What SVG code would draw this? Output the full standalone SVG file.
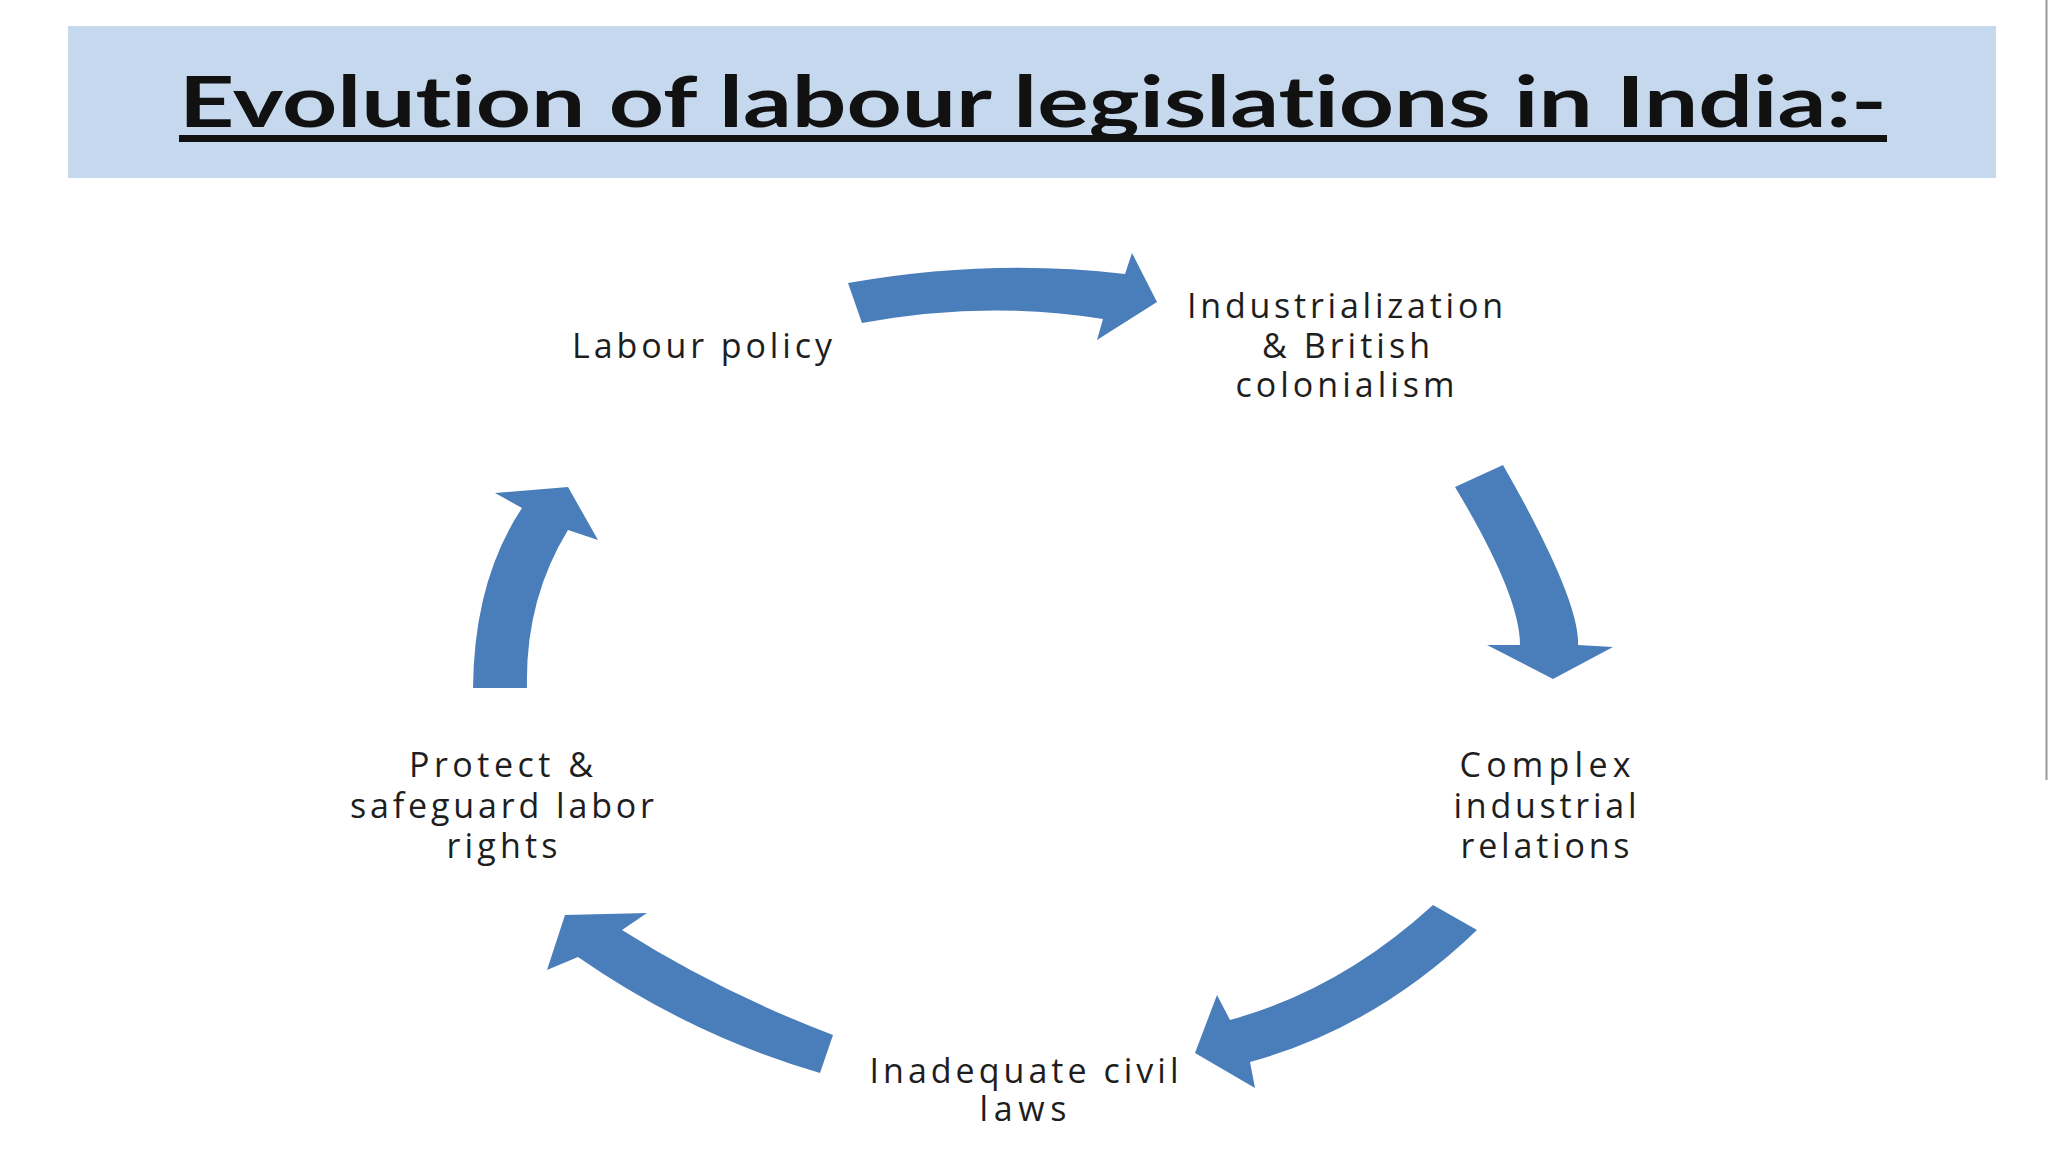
<svg xmlns="http://www.w3.org/2000/svg" width="2048" height="1152" viewBox="0 0 2048 1152">
  <style>
    .title { font-family: Lato, "Liberation Sans", sans-serif; font-weight: bold; font-size: 70px; fill: #111111; font-variant-ligatures: none; }
    .lbl { font-family: "Open Sans", "Noto Sans", sans-serif; font-size: 34px; fill: #1e1e1e; text-anchor: middle; }
    .arrow { fill: #4a7ebb; }
  </style>
  <rect x="0" y="0" width="2048" height="1152" fill="#ffffff"/>
  <g id="title">
    <rect x="68" y="26" width="1928" height="152" fill="#c6d8ee"/>
    <text class="title" x="179" y="127" textLength="1708" lengthAdjust="spacingAndGlyphs">Evolution of labour legislations in India:-</text>
    <rect x="179" y="135" width="1708" height="7" fill="#111111"/>
  </g>
  <line x1="2046.5" y1="0" x2="2046.5" y2="780" stroke="#9a9a9a" stroke-width="2"/>
  <g id="connectors">
    <path class="arrow" d="M848,283 Q990,258 1125,274 L1132,253 L1157,302 L1097,340 L1103,319 Q985,300 862,323 Z"/>
    <path class="arrow" d="M1455,487 L1503,465 Q1580,600 1578,645 L1613,647 L1553,679 L1487,645 L1520,645 Q1520,595 1455,487 Z"/>
    <path class="arrow" d="M1433,905 L1477,930 Q1375,1028 1250,1062 L1255,1088 L1195,1053 L1217,995 L1230,1020 Q1340,990 1433,905 Z"/>
    <path class="arrow" d="M833,1035 L820,1073 Q690,1035 578,957 L547,970 L565,915 L647,913 L622,930 Q720,992 833,1035 Z"/>
    <path class="arrow" d="M473,688 L527,688 Q525,600 568,530 L598,540 L568,487 L495,493 L522,508 Q474,580 473,688 Z"/>
  </g>
  <g id="node-labour-policy">
    <text class="lbl" x="702" y="358" textLength="260">Labour policy</text>
  </g>
  <g id="node-industrialization">
    <text class="lbl" x="1345" y="318" textLength="316">Industrialization</text>
    <text class="lbl" x="1346" y="358" textLength="168">&amp; British</text>
    <text class="lbl" x="1345" y="397" textLength="219">colonialism</text>
  </g>
  <g id="node-complex">
    <text class="lbl" x="1545" y="777" textLength="171">Complex</text>
    <text class="lbl" x="1545" y="818" textLength="183">industrial</text>
    <text class="lbl" x="1545" y="858" textLength="169">relations</text>
  </g>
  <g id="node-inadequate">
    <text class="lbl" x="1024" y="1083" textLength="309">Inadequate civil</text>
    <text class="lbl" x="1023" y="1121" textLength="87">laws</text>
  </g>
  <g id="node-protect">
    <text class="lbl" x="501" y="777" textLength="184">Protect &amp;</text>
    <text class="lbl" x="502" y="818" textLength="304">safeguard labor</text>
    <text class="lbl" x="502" y="858" textLength="111">rights</text>
  </g>
</svg>
